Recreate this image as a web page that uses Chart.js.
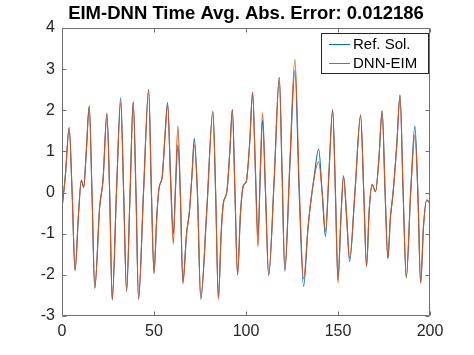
<!DOCTYPE html>
<html>
<head>
<meta charset="utf-8">
<script src="https://cdn.jsdelivr.net/npm/chart.js@4/dist/chart.umd.min.js"></script>
<style>
  html, body { margin: 0; padding: 0; background: #fff; }
  #wrap { width: 474px; height: 355px; }
</style>
</head>
<body>
<div id="wrap"><canvas id="c" width="474" height="355"></canvas></div>
<script>
const chartTitle = 'EIM-DNN Time Avg. Abs. Error: 0.012186';
const seriesNames = ['Ref. Sol.', 'DNN-EIM'];
const xTicks = [0, 50, 100, 150, 200];
const yTicks = [-3, -2, -1, 0, 1, 2, 3, 4];

const timeT = [0, 1.8, 3.9, 5.5, 7.1, 9, 10.5, 11.8, 13.2, 14.8, 16.3, 17.8, 20.5, 22.3, 24.4, 25.9, 27.3, 29.6, 31.9, 33.5,
  35.1, 37, 38.7, 40.2, 41.6, 44.3, 47.1, 48.6, 50, 51.5, 52.7, 54.5, 56, 57.4, 59, 60.5, 61.7, 63, 64.3, 65.7,
  67.7, 69.2, 70.6, 71.9, 73.6, 75.4, 78.7, 82, 83.5, 85, 86.5, 87.7, 89.6, 91.2, 92.6, 94, 95.4, 97, 98.6, 100.1,
  102, 103.6, 105.1, 106.5, 107.8, 109, 110.6, 112.3, 115.3, 118.1, 119.6, 121.1, 123.8, 126.6, 128.9, 131.3, 133.8, 136.8, 139.5, 141.4,
  143.2, 145.1, 147.1, 148.6, 150, 151.5, 153, 154.7, 156.3, 159.2, 162.3, 164, 165.5, 167, 168.6, 170.4, 172.2, 174, 175.6, 177.1,
  178.5, 179.9, 182, 183.7, 185.4, 187.1, 189.5, 191.8, 193.4, 194.9, 196.5, 198.2, 200];

const refSol = [-0.38, 0.4, 1.58, 0, -1.9, -0.5, 0.3, 0.13, 1.0, 2.1, 0, -2.33, -0.34, 0.3, 1.93, 0, -2.61, 0, 2.31, 0,
  -2.41, 0, 2.21, 0, -2.6, 0, 2.51, 0, -1.96, -0.6, 0.1, 0.39, 1.4, 2.19, 0.4, -1.0, 0.1, 1.16, 0, -2.17,
  -1.0, -0.47, 0.4, 1.32, 0, -2.6, -0.42, 1.97, 0, -2.57, -1.0, -0.26, 0.02, 1.0, 2.02, 0, -2.0, -0.5, 0.18, 0.26,
  1.2, 2.43, 0.6, -1.05, 0.5, 1.76, 0, -2.0, 0.3, 2.8, 0.5, -1.92, 0.6, 2.97, 0, -2.28, -0.8, 0.3, 1.06, 0,
  -1.07, 0.5, 2.01, 0, -2.12, -0.7, 0.41, -0.6, -1.68, 0, 1.89, 0, -1.8, -0.4, 0.2, 0.02, 0.8, 1.99, 0, -1.6,
  -0.6, -0.02, 1.2, 2.37, 0, -2.08, 0, 1.62, 0, -2.2, -0.8, -0.18, -0.26];

const dnnEim = [-0.38, 0.4, 1.58, 0, -1.88, -0.5, 0.3, 0.13, 1.0, 2.1, 0, -2.32, -0.34, 0.3, 1.9, 0, -2.6, 0, 2.2, 0,
  -2.38, 0, 2.2, 0, -2.58, 0, 2.5, 0, -1.96, -0.6, 0.1, 0.4, 1.4, 2.15, 0.3, -1.25, 0.2, 1.62, 0, -2.22,
  -1.0, -0.5, 0.4, 1.16, 0, -2.55, -0.42, 1.97, 0, -2.6, -1.0, -0.26, 0.02, 1.0, 2.02, 0, -2.0, -0.5, 0.18, 0.26,
  1.2, 2.45, 0.5, -1.32, 0.6, 1.94, 0, -2.02, 0.3, 2.8, 0.5, -1.88, 0.7, 3.24, 0.2, -2.1, -0.8, 0.3, 0.75, 0,
  -0.95, 0.5, 2.02, 0, -2.2, -0.7, 0.4, -0.6, -1.6, 0, 1.87, 0, -1.8, -0.4, 0.2, 0.02, 0.8, 1.99, 0, -1.6,
  -0.6, -0.02, 1.2, 2.37, 0, -2.06, 0, 1.4, 0, -2.2, -0.8, -0.18, -0.26];

const colors = ['#0072BD', '#D95319'];
const FONT = '"Liberation Sans", Arial, Helvetica, sans-serif';
const TEXT = '#262626';
const FRAME = '#707070';

const toPts = ys => timeT.map((t, i) => ({ x: t, y: ys[i] }));

const matlabDecor = {
  id: 'matlabDecor',
  afterDraw(chart) {
    const { ctx, chartArea: a, scales } = chart;
    const sx = scales.x, sy = scales.y;
    ctx.save();
    // frame
    ctx.strokeStyle = FRAME;
    ctx.lineWidth = 1;
    const L = Math.round(a.left) + 0.5, R = Math.round(a.right) - 0.5;
    const T = Math.round(a.top) + 0.5, B = Math.round(a.bottom) - 0.5;
    ctx.beginPath();
    ctx.rect(L, T, R - L, B - T);
    ctx.stroke();
    // inward ticks
    const tl = 4;
    ctx.beginPath();
    xTicks.forEach(v => {
      const px = Math.round(sx.getPixelForValue(v)) + 0.5;
      ctx.moveTo(px, B); ctx.lineTo(px, B - tl);
      ctx.moveTo(px, T); ctx.lineTo(px, T + tl);
    });
    yTicks.forEach(v => {
      const py = Math.round(sy.getPixelForValue(v)) + 0.5;
      ctx.moveTo(L, py); ctx.lineTo(L + tl, py);
      ctx.moveTo(R, py); ctx.lineTo(R - tl, py);
    });
    ctx.stroke();
    // title
    ctx.fillStyle = '#000';
    ctx.font = 'bold 18.5px ' + FONT;
    ctx.textAlign = 'center';
    ctx.textBaseline = 'alphabetic';
    ctx.fillText(chartTitle, (a.left + a.right) / 2, 19);
    // legend
    const bx = 321.5, by = 33.5, bw = 107, bh = 40;
    ctx.fillStyle = '#fff';
    ctx.fillRect(bx, by, bw, bh);
    ctx.strokeStyle = '#262626';
    ctx.lineWidth = 1;
    ctx.strokeRect(bx, by, bw, bh);
    ctx.font = '15px ' + FONT;
    ctx.textAlign = 'left';
    ctx.textBaseline = 'middle';
    const rows = [44, 63];
    chart.data.datasets.forEach((ds, i) => {
      ctx.strokeStyle = colors[i];
      ctx.lineWidth = 1;
      ctx.beginPath();
      ctx.moveTo(329, rows[i] + 0.5);
      ctx.lineTo(350, rows[i] + 0.5);
      ctx.stroke();
      ctx.fillStyle = '#000';
      ctx.fillText(ds.label, 353, rows[i] + 1);
    });
    ctx.restore();
  }
};

new Chart(document.getElementById('c'), {
  type: 'line',
  data: {
    datasets: [
      { label: seriesNames[0], data: toPts(refSol), borderColor: colors[0], borderWidth: 1.1,
        pointRadius: 0, fill: false, cubicInterpolationMode: 'monotone', order: 1 },
      { label: seriesNames[1], data: toPts(dnnEim), borderColor: colors[1], borderWidth: 1.1,
        pointRadius: 0, fill: false, cubicInterpolationMode: 'monotone', order: 0 }
    ]
  },
  options: {
    responsive: false,
    animation: false,
    events: [],
    layout: { padding: { top: 28, right: 44, left: 0, bottom: 0 } },
    plugins: { legend: { display: false }, title: { display: false }, tooltip: { enabled: false } },
    scales: {
      x: {
        type: 'linear', min: 0, max: 200,
        afterBuildTicks: s => { s.ticks = xTicks.map(v => ({ value: v })); },
        afterFit: s => { s.height = 39; },
        grid: { display: false, drawTicks: false },
        border: { display: false },
        ticks: { color: TEXT, font: { family: FONT, size: 16 }, padding: 6, maxRotation: 0 }
      },
      y: {
        type: 'linear', min: -3, max: 4,
        afterBuildTicks: s => { s.ticks = yTicks.map(v => ({ value: v })); },
        afterFit: s => { s.width = 62; },
        grid: { display: false, drawTicks: false },
        border: { display: false },
        ticks: { color: TEXT, font: { family: FONT, size: 16 }, padding: 7 }
      }
    }
  },
  plugins: [matlabDecor]
});
</script>
</body>
</html>
